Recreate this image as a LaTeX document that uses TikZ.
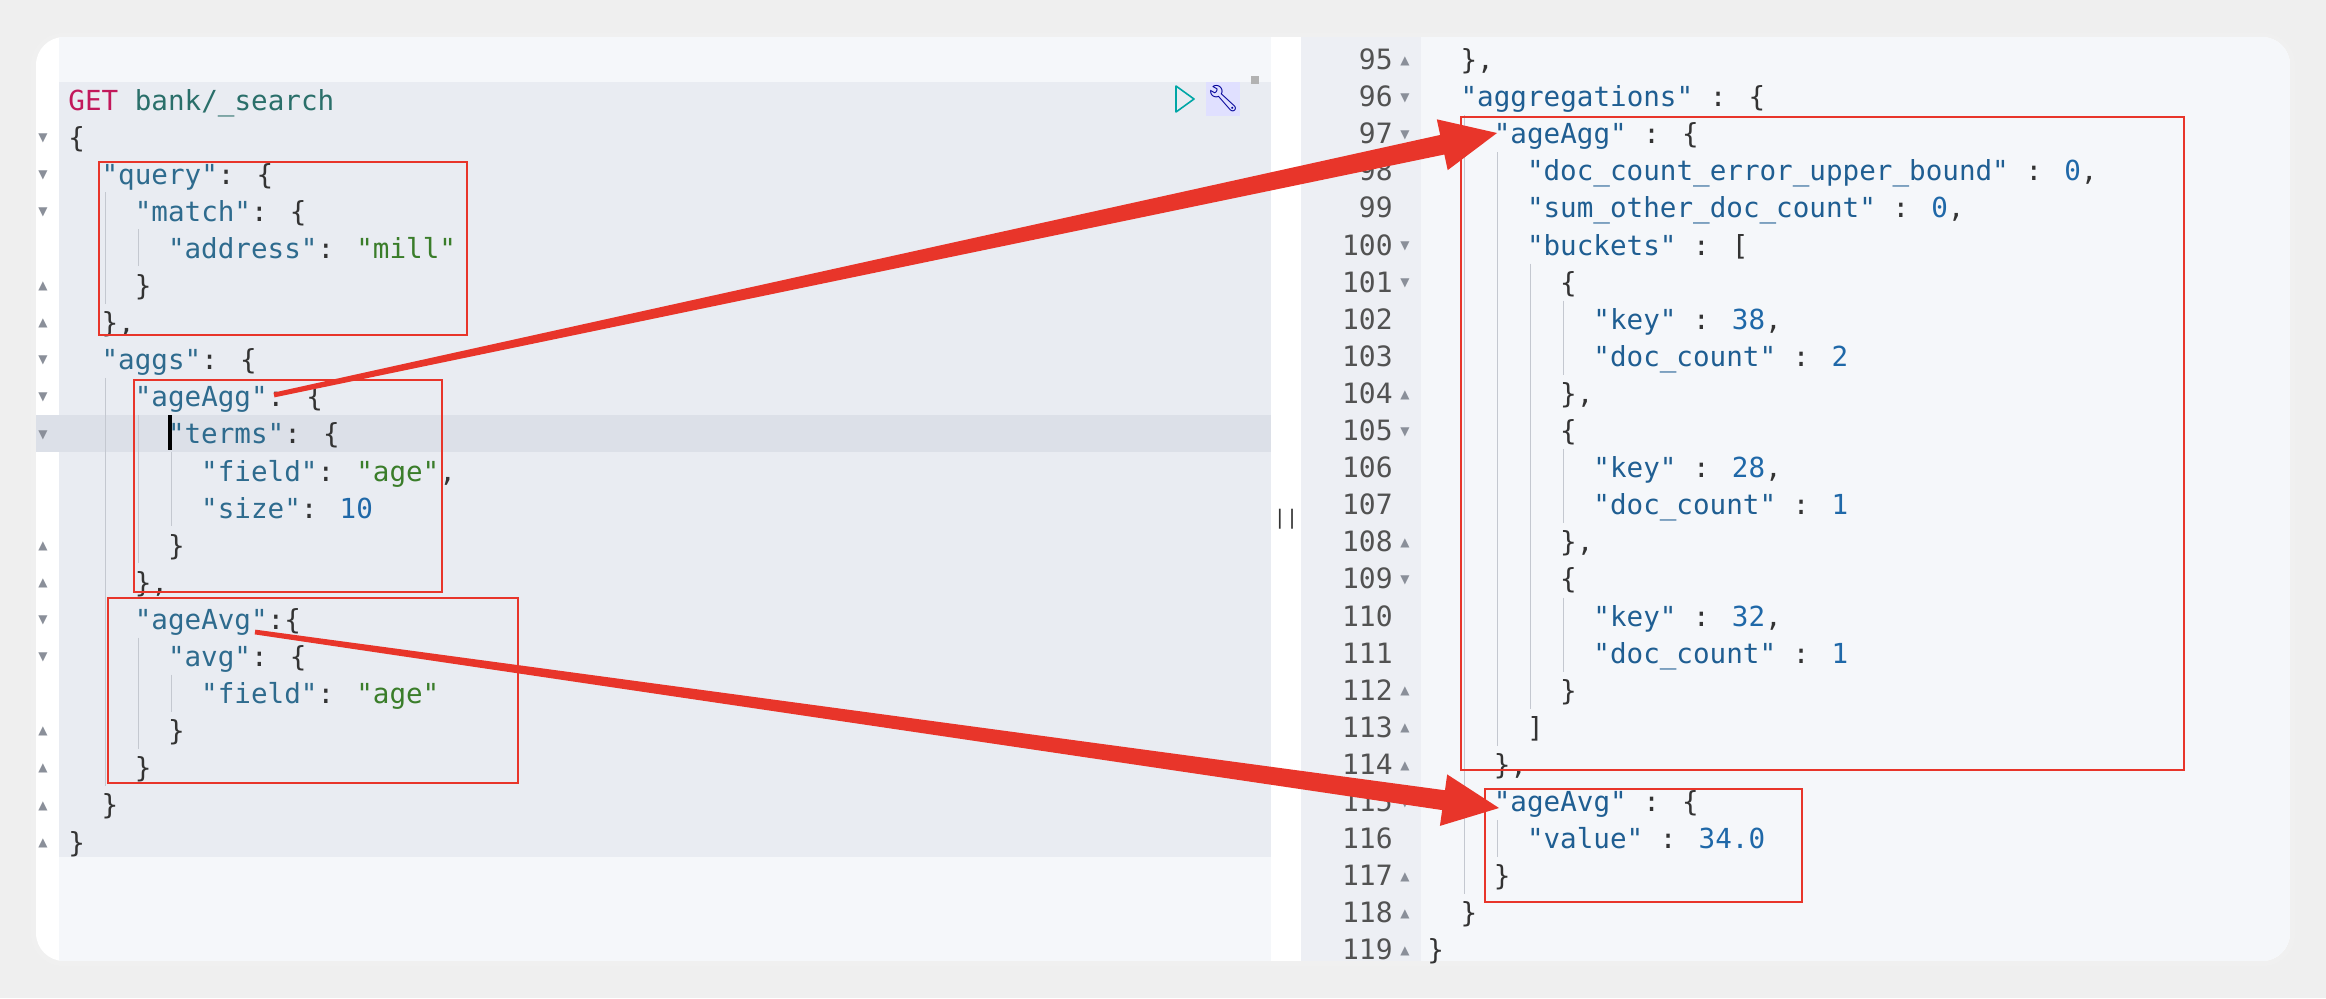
\documentclass[tikz,border=0pt]{standalone}
\usepackage{fontspec}
\usetikzlibrary{calc}
\newfontfamily\codefont{DejaVu Sans Mono}
\newfontfamily\symfont{DejaVu Sans}
\newfontfamily\emojifont{Noto Emoji}
\definecolor{keyc}{HTML}{2E6B8E}
\definecolor{rkey}{HTML}{1F5E92}
\definecolor{strc}{HTML}{3A7D2A}
\definecolor{numc}{HTML}{1F68A8}
\definecolor{punc}{HTML}{333333}
\definecolor{getc}{HTML}{C2185B}
\definecolor{urlc}{HTML}{2A6F6A}
\definecolor{redc}{HTML}{E8352A}
\definecolor{bgout}{HTML}{EFEFEF}
\definecolor{panel}{HTML}{F5F7FA}
\definecolor{codebg}{HTML}{E9ECF2}
\definecolor{hl}{HTML}{DCE0E8}
\definecolor{guide}{HTML}{C4C8D0}
\definecolor{foldc}{HTML}{8A8F99}
\newcommand\kk[1]{\textcolor{keyc}{"#1"}}
\newcommand\rk[1]{\textcolor{rkey}{"#1"}}
\newcommand\sv[1]{\textcolor{strc}{"#1"}}
\newcommand\nn[1]{\textcolor{numc}{#1}}
\newcommand\Lline[4]{\node[ct] (#1) at ({68+16.6*#3},{110+37.1*(#2-1)}) {#4};}
\newcommand\Rline[4]{\node[ct] (#1) at ({1427+16.6*#3},{69.5+37.1*(#2-95)}) {#4};}
\tikzset{
 ct/.style={anchor=base west,inner sep=0pt,font=\codefont\fontsize{13.8}{16}\selectfont,text=punc},
 lnum/.style={anchor=base east,inner sep=0pt,font=\codefont\fontsize{14}{16}\selectfont,text=punc!85},
 fold/.style={inner sep=0pt,font=\symfont\fontsize{6}{7}\selectfont,text=foldc},
 redbox/.style={draw=redc,line width=1pt},
 guideline/.style={draw=guide,line width=0.5pt},
 bigarrow/.style={fill=redc,draw=none}
}
\begin{document}
\begin{tikzpicture}[x=0.5pt,y=-0.5pt]
\useasboundingbox (0,0) rectangle (2326,998);
\fill[bgout] (0,0) rectangle (2326,998);
\fill[black!6,rounded corners=16pt] (31,33) rectangle (2295,966);
\begin{scope}
\clip[rounded corners=14pt] (36,37) rectangle (2290,961);
\fill[white] (36,37) rectangle (2290,961);
% left panel
\fill[panel] (59,37) rectangle (1271,961);
\fill[codebg] (59,82) rectangle (1271,857);
\fill[hl] (36,415) rectangle (1271,452);
% right panel
\fill[panel] (1301,37) rectangle (2290,961);
\fill[codebg!70!panel] (1301,37) rectangle (1421,961);
\end{scope}
\fill[gray!60] (1251,76) rectangle (1259,84);
% icons
\draw[teal!70!cyan,line width=0.8pt,line join=round] (1176,86)--(1176,112)--(1194,99)--cycle;
\fill[blue!12] (1206,82) rectangle (1240,116);
\node[inner sep=0pt,font=\emojifont\fontsize{13}{13}\selectfont,text=blue!60!black] (wrench) at (1223,99) {🔧};
\node[inner sep=0pt,font=\codefont\fontsize{10}{10}\selectfont,text=punc] (divider) at (1286,519) {||};
% cursor
\fill[black] (168,415) rectangle (172,450);
% guides left
\foreach \c/\a/\b in {2/4/6,2/9/19,4/5/5,4/10/13,4/16/18,6/11/12,6/17/17}
  \draw[guideline] ({72+16.6*\c},{81+37.1*(\a-1)}) -- ({72+16.6*\c},{118+37.1*(\b-1)});
% guides right
\foreach \c/\a/\b in {2/97/117,4/98/113,4/116/116,6/101/112,8/102/103,8/106/107,8/110/111}
  \draw[guideline] ({1431+16.6*\c},{41+37.1*(\a-95)}) -- ({1431+16.6*\c},{78+37.1*(\b-95)});
% left code
\Lline{l1}{1}{0}{\textcolor{getc}{GET} \textcolor{urlc}{bank/\_search}}
\Lline{l2}{2}{0}{\{}
\Lline{l3}{3}{2}{\kk{query}: \{}
\Lline{l4}{4}{4}{\kk{match}: \{}
\Lline{l5}{5}{6}{\kk{address}: \sv{mill}}
\Lline{l6}{6}{4}{\}}
\Lline{l7}{7}{2}{\},}
\Lline{l8}{8}{2}{\kk{aggs}: \{}
\Lline{l9}{9}{4}{\kk{ageAgg}: \{}
\Lline{l10}{10}{6}{\kk{terms}: \{}
\Lline{l11}{11}{8}{\kk{field}: \sv{age},}
\Lline{l12}{12}{8}{\kk{size}: \nn{10}}
\Lline{l13}{13}{6}{\}}
\Lline{l14}{14}{4}{\},}
\Lline{l15}{15}{4}{\kk{ageAvg}:\{}
\Lline{l16}{16}{6}{\kk{avg}: \{}
\Lline{l17}{17}{8}{\kk{field}: \sv{age}}
\Lline{l18}{18}{6}{\}}
\Lline{l19}{19}{4}{\}}
\Lline{l20}{20}{2}{\}}
\Lline{l21}{21}{0}{\}}
% left folds
\foreach \i in {2,3,4,8,9,10,15,16} \node[fold] (fd\i) at (43,{101+37.1*(\i-1)}) {▼};
\foreach \i in {6,7,13,14,18,19,20,21} \node[fold] (fu\i) at (43,{101+37.1*(\i-1)}) {▲};
% right code
\Rline{r95}{95}{2}{\},}
\Rline{r96}{96}{2}{\rk{aggregations} : \{}
\Rline{r97}{97}{4}{\rk{ageAgg} : \{}
\Rline{r98}{98}{6}{\rk{doc\_count\_error\_upper\_bound} : \nn{0},}
\Rline{r99}{99}{6}{\rk{sum\_other\_doc\_count} : \nn{0},}
\Rline{r100}{100}{6}{\rk{buckets} : [}
\Rline{r101}{101}{8}{\{}
\Rline{r102}{102}{10}{\rk{key} : \nn{38},}
\Rline{r103}{103}{10}{\rk{doc\_count} : \nn{2}}
\Rline{r104}{104}{8}{\},}
\Rline{r105}{105}{8}{\{}
\Rline{r106}{106}{10}{\rk{key} : \nn{28},}
\Rline{r107}{107}{10}{\rk{doc\_count} : \nn{1}}
\Rline{r108}{108}{8}{\},}
\Rline{r109}{109}{8}{\{}
\Rline{r110}{110}{10}{\rk{key} : \nn{32},}
\Rline{r111}{111}{10}{\rk{doc\_count} : \nn{1}}
\Rline{r112}{112}{8}{\}}
\Rline{r113}{113}{6}{]}
\Rline{r114}{114}{4}{\},}
\Rline{r115}{115}{4}{\rk{ageAvg} : \{}
\Rline{r116}{116}{6}{\rk{value} : \nn{34.0}}
\Rline{r117}{117}{4}{\}}
\Rline{r118}{118}{2}{\}}
\Rline{r119}{119}{0}{\}}
% line numbers
\foreach \n in {95,...,119} \node[lnum] (n\n) at (1393,{69.5+37.1*(\n-95)}) {\n};
\foreach \n in {96,97,100,101,105,109,115} \node[fold] (rd\n) at (1405,{61+37.1*(\n-95)}) {▼};
\foreach \n in {95,104,108,112,113,114,117,118,119} \node[fold] (ru\n) at (1405,{61+37.1*(\n-95)}) {▲};
% red boxes
\draw[redbox] (99,162) rectangle (467,335);
\draw[redbox] (134,380) rectangle (442,592);
\draw[redbox] (108,598) rectangle (518,783);
\draw[redbox] (1461,117) rectangle (2184,770);
\draw[redbox] (1485,789) rectangle (1802,902);
% arrows
\coordinate (a1s) at (274,395);
\coordinate (a1t) at (1497,133);
\coordinate (a1b) at ($(a1t)!28pt!(a1s)$);
\fill[bigarrow] ($(a1s)!1.2pt!90:(a1t)$) -- ($(a1b)!5pt!90:(a1t)$) -- ($(a1b)!13pt!90:(a1t)$) -- (a1t)
  -- ($(a1b)!13pt!-90:(a1t)$) -- ($(a1b)!5pt!-90:(a1t)$) -- ($(a1s)!1.2pt!-90:(a1t)$) -- cycle;
\coordinate (a2s) at (255,632);
\coordinate (a2t) at (1499,808);
\coordinate (a2b) at ($(a2t)!28pt!(a2s)$);
\fill[bigarrow] ($(a2s)!1.2pt!90:(a2t)$) -- ($(a2b)!5pt!90:(a2t)$) -- ($(a2b)!13pt!90:(a2t)$) -- (a2t)
  -- ($(a2b)!13pt!-90:(a2t)$) -- ($(a2b)!5pt!-90:(a2t)$) -- ($(a2s)!1.2pt!-90:(a2t)$) -- cycle;
\end{tikzpicture}
\end{document}
